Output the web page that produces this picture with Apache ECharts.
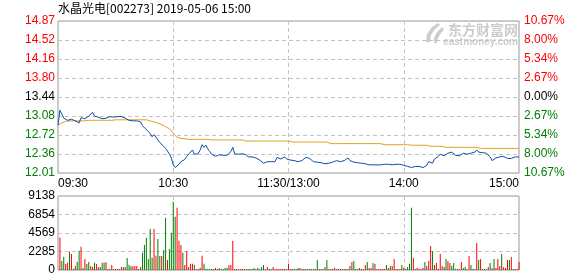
<!DOCTYPE html>
<html><head><meta charset="utf-8">
<script src="https://cdn.jsdelivr.net/npm/echarts@6/dist/echarts.min.js"></script>
<style>html,body{margin:0;padding:0;background:#fff}#c{width:578px;height:276px}</style>
</head><body><div id="c"></div>
<script>
const titleText = '水晶光电[002273] 2019-05-06 15:00';
const prevClose = 13.44;
const limitPct = 0.1067;
// tick labels, bottom to top
const priceTicks = ['12.01','12.36','12.72','13.08','13.44','13.80','14.16','14.52','14.87'];
const pctTicks = ['10.67%','8.00%','5.34%','2.67%','0.00%','2.67%','5.34%','8.00%','10.67%'];
const volTicks = ['0','2285','4569','6854','9138'];
const volMax = 9138;
const timeTicks = ['09:30','10:30','11:30/13:00','14:00','15:00'];
const timeTickIdx = [0,60,120,180,240];

const price = [
12.91,13.19,13.12,13.04,13.06,13.00,12.99,13.02,13.00,12.99,
12.97,12.95,13.05,13.02,13.03,13.06,13.08,13.10,13.15,13.08,
13.05,13.06,13.05,13.03,13.01,13.04,13.05,13.07,13.07,13.06,
13.06,13.07,13.07,13.07,13.05,13.04,13.01,13.00,12.98,12.99,
12.99,12.99,12.98,12.97,12.90,12.86,12.83,12.79,12.75,12.69,
12.73,12.74,12.63,12.58,12.59,12.51,12.47,12.42,12.36,12.29,
12.16,12.11,12.14,12.17,12.22,12.25,12.26,12.32,12.35,12.40,
12.44,12.36,12.36,12.37,12.44,12.54,12.49,12.53,12.46,12.41,
12.36,12.33,12.32,12.34,12.35,12.36,12.34,12.32,12.34,12.35,
12.41,12.49,12.37,12.34,12.36,12.37,12.37,12.36,12.35,12.31,
12.31,12.31,12.31,12.29,12.28,12.25,12.22,12.19,12.20,12.22,
12.22,12.22,12.22,12.22,12.30,12.27,12.27,12.28,12.31,12.27,
12.25,12.25,12.24,12.24,12.23,12.22,12.23,12.24,12.27,12.30,
12.29,12.28,12.25,12.22,12.22,12.21,12.21,12.20,12.19,12.18,
12.18,12.19,12.20,12.21,12.23,12.24,12.23,12.22,12.23,12.24,
12.25,12.29,12.24,12.22,12.21,12.20,12.20,12.19,12.19,12.18,
12.18,12.17,12.16,12.16,12.16,12.16,12.16,12.16,12.16,12.17,
12.17,12.17,12.17,12.17,12.16,12.16,12.17,12.17,12.17,12.17,
12.15,12.14,12.13,12.12,12.11,12.12,12.13,12.13,12.13,12.12,
12.11,12.11,12.15,12.22,12.20,12.19,12.27,12.29,12.32,12.36,
12.38,12.33,12.36,12.38,12.41,12.40,12.38,12.34,12.33,12.33,
12.36,12.38,12.37,12.36,12.39,12.38,12.38,12.40,12.44,12.40,
12.38,12.39,12.39,12.38,12.37,12.31,12.24,12.26,12.29,12.30,
12.31,12.32,12.32,12.30,12.28,12.25,12.28,12.31,12.31,12.31,
12.31];

const avgPrice = [
12.91,12.93,12.95,12.97,12.98,12.99,12.99,12.99,12.99,12.99,
12.99,12.99,12.99,12.99,12.99,13.00,13.00,13.00,13.00,13.00,
13.00,13.00,13.00,13.00,13.00,13.00,13.00,13.00,13.00,13.00,
13.01,13.01,13.01,13.01,13.01,13.01,13.01,13.01,13.01,13.01,
13.01,13.01,13.01,13.01,13.01,13.01,13.01,13.00,12.99,12.98,
12.97,12.96,12.95,12.93,12.92,12.90,12.88,12.86,12.84,12.82,
12.76,12.72,12.68,12.67,12.66,12.66,12.65,12.64,12.64,12.64,
12.64,12.64,12.64,12.64,12.64,12.64,12.64,12.64,12.64,12.64,
12.63,12.63,12.63,12.63,12.63,12.63,12.63,12.63,12.63,12.63,
12.63,12.63,12.63,12.63,12.63,12.63,12.63,12.61,12.61,12.61,
12.61,12.61,12.61,12.61,12.61,12.61,12.61,12.61,12.61,12.61,
12.61,12.61,12.61,12.61,12.61,12.61,12.61,12.61,12.61,12.61,
12.61,12.61,12.59,12.59,12.59,12.59,12.59,12.59,12.59,12.59,
12.59,12.59,12.59,12.59,12.59,12.59,12.59,12.59,12.59,12.59,
12.59,12.59,12.56,12.56,12.56,12.56,12.56,12.56,12.56,12.56,
12.56,12.56,12.56,12.56,12.56,12.56,12.56,12.56,12.56,12.56,
12.56,12.56,12.56,12.56,12.56,12.56,12.56,12.56,12.56,12.56,
12.54,12.54,12.54,12.54,12.54,12.54,12.54,12.54,12.54,12.54,
12.54,12.54,12.54,12.54,12.53,12.53,12.53,12.53,12.53,12.53,
12.53,12.53,12.53,12.51,12.51,12.51,12.51,12.51,12.51,12.51,
12.51,12.51,12.49,12.49,12.49,12.49,12.49,12.49,12.49,12.49,
12.49,12.49,12.49,12.49,12.49,12.49,12.49,12.49,12.49,12.47,
12.47,12.47,12.47,12.47,12.47,12.47,12.47,12.47,12.47,12.47,
12.47,12.47,12.47,12.47,12.47,12.47,12.47,12.47,12.47,12.47,
12.47];

const volume = [
0,4000,1110,1650,740,905,2260,1975,165,495,
1030,2390,2880,250,1360,740,990,495,370,905,
740,370,370,905,905,990,125,125,617,125,
125,125,125,370,370,370,1480,660,495,450,
495,495,125,370,2140,3090,3990,1360,5060,1520,
5060,1770,3830,1730,1730,2470,6460,1235,2590,4610,
8440,6590,7700,3620,3090,2140,617,2350,370,780,
780,617,125,125,290,1770,780,165,125,125,
125,125,250,125,250,125,125,250,290,617,
617,3620,125,125,125,125,125,125,125,125,
125,125,250,125,290,125,370,617,125,370,
125,125,370,125,125,125,125,125,125,125,
780,125,125,125,125,250,250,125,125,125,
125,125,125,125,125,1235,125,125,125,370,
1235,125,125,125,250,125,125,125,125,125,
125,125,495,990,1110,125,125,250,125,125,
617,990,250,250,865,740,125,125,125,125,
125,617,250,495,495,1360,125,125,125,617,
250,125,370,780,7700,1480,125,250,165,125,
250,990,495,1110,2960,2350,617,865,165,1975,
495,370,1360,1110,865,495,865,165,125,125,
990,250,370,125,1730,617,125,125,3330,1235,
1360,125,125,125,370,865,250,1360,250,1360,
495,1975,370,250,1235,1235,1605,125,125,125,
990];

const volUp = [
1,1,0,0,1,1,0,1,0,1,
0,0,1,0,1,0,0,1,1,0,
1,1,0,0,0,1,0,0,1,0,
1,1,1,1,0,1,0,0,0,1,
1,1,0,1,0,0,0,0,0,0,
1,1,0,0,1,0,0,1,0,0,
0,0,1,1,1,0,1,1,1,1,
1,0,1,1,1,1,0,0,0,0,
0,0,1,0,1,0,0,0,0,1,
1,1,1,1,1,1,0,1,0,0,
0,0,0,0,0,0,0,0,1,1,
0,0,1,1,1,1,1,1,1,1,
1,0,0,1,0,0,1,1,0,1,
0,0,1,0,0,0,1,0,0,1,
0,0,1,1,1,1,0,0,1,1,
1,1,0,1,0,0,0,1,0,1,
1,0,1,1,0,1,1,1,1,1,
1,0,1,0,1,1,1,1,1,0,
1,1,0,0,0,1,1,1,1,1,
1,0,1,1,1,0,1,1,0,1,
1,0,0,1,1,0,0,0,0,1,
1,0,0,1,1,0,0,0,1,0,
1,0,0,0,1,0,1,0,1,1,
1,0,1,1,1,0,1,0,1,1,
1];

// minute categories
const times = [];
function pushRange(h0, m0, h1, m1) {
  for (let t = h0 * 60 + m0; t <= h1 * 60 + m1; t++) {
    const h = Math.floor(t / 60), m = t % 60;
    times.push((h < 10 ? '0' : '') + h + ':' + (m < 10 ? '0' : '') + m);
  }
}
pushRange(9, 30, 11, 30);
pushRange(13, 1, 15, 0);

const RED = '#ff0000', GREEN = '#008000', BLACK = '#000000';
const FONT = 'Liberation Sans';
const gridLine = { show: true, lineStyle: { color: '#c4c4c4', type: [4, 3], width: 1 } };
const vIdx = i => i === 60 || i === 120 || i === 180;

const chart = echarts.init(document.getElementById('c'), null, { renderer: 'canvas' });
chart.setOption({
  animation: false,
  backgroundColor: '#fff',
  graphic: [
    { type: 'text', left: 58, top: 2, style: { text: titleText, font: '12px "Noto Sans CJK SC"', fill: '#000' } },
    { type: 'polygon', z: 0, shape: { points: [[438,23],[432,27],[427,34],[426,42],[430,42],[431,35],[435,29],[440,25]] }, style: { fill: '#cdcdcd' } },
    { type: 'polygon', z: 0, shape: { points: [[442,27],[437,32],[434,38],[434,43],[437,43],[438,38],[441,33],[444,30]] }, style: { fill: '#cdcdcd' } },
    { type: 'text', right: 60, top: 23, z: 0, style: { text: '东方财富网', font: 'bold 14px "Noto Sans CJK SC"', fill: '#cdcdcd' } },
    { type: 'text', right: 60, top: 37, z: 0, style: { text: 'eastmoney.com', font: 'bold 10px "Liberation Sans"', fill: '#cdcdcd' } }
  ],
  grid: [
    { left: 58, top: 21, width: 461, height: 152, show: true, borderColor: '#999', borderWidth: 1, backgroundColor: 'transparent' },
    { left: 58, top: 196, width: 461, height: 74, show: true, borderColor: '#999', borderWidth: 1, backgroundColor: 'transparent' }
  ],
  xAxis: [
    {
      type: 'category', gridIndex: 0, data: times, boundaryGap: false,
      axisLine: { show: false }, axisTick: { show: false },
      axisLabel: {
        interval: i => timeTickIdx.includes(i),
        formatter: (v, i) => timeTicks[timeTickIdx.indexOf(i)],
        color: BLACK, fontFamily: FONT, fontSize: 12, margin: 5,
        alignMinLabel: 'left', alignMaxLabel: 'right', showMinLabel: true, showMaxLabel: true
      },
      splitLine: Object.assign({ interval: vIdx }, gridLine)
    },
    {
      type: 'category', gridIndex: 1, data: times, boundaryGap: false,
      axisLine: { show: false }, axisTick: { show: false }, axisLabel: { show: false },
      splitLine: Object.assign({ interval: vIdx }, gridLine)
    }
  ],
  yAxis: [
    { type: 'value', gridIndex: 0, show: false, min: prevClose * (1 - limitPct), max: prevClose * (1 + limitPct), splitLine: { show: false } },
    {
      type: 'category', gridIndex: 0, position: 'left', data: priceTicks, boundaryGap: false,
      axisLine: { show: false }, axisTick: { show: false },
      axisLabel: { interval: 0, margin: 3, fontFamily: FONT, fontSize: 12,
        color: (v, i) => i > 4 ? RED : (i < 4 ? GREEN : BLACK) },
      splitLine: Object.assign({ interval: 0 }, gridLine)
    },
    {
      type: 'category', gridIndex: 0, position: 'right', data: pctTicks, boundaryGap: false,
      axisLine: { show: false }, axisTick: { show: false },
      axisLabel: { interval: 0, margin: 5, fontFamily: FONT, fontSize: 12,
        color: (v, i) => i > 4 ? RED : (i < 4 ? GREEN : BLACK) },
      splitLine: { show: false }
    },
    {
      type: 'value', gridIndex: 1, min: 0, max: volMax, interval: volMax / 4,
      axisLine: { show: false }, axisTick: { show: false },
      axisLabel: { margin: 3, fontFamily: FONT, fontSize: 12, color: BLACK,
        formatter: v => volTicks[Math.round(v / (volMax / 4))] },
      splitLine: gridLine
    }
  ],
  series: [
    { type: 'line', xAxisIndex: 0, yAxisIndex: 0, data: avgPrice, showSymbol: false, symbol: 'none',
      lineStyle: { color: '#e0a016', width: 1 }, z: 3 },
    { type: 'line', xAxisIndex: 0, yAxisIndex: 0, data: price, showSymbol: false, symbol: 'none',
      lineStyle: { color: '#0b4fa6', width: 1 }, z: 4 },
    { type: 'bar', xAxisIndex: 1, yAxisIndex: 3, barWidth: 1,
      data: volume.map((v, i) => ({ value: v, itemStyle: { color: volUp[i] ? RED : GREEN } })) }
  ]
});
</script></body></html>
